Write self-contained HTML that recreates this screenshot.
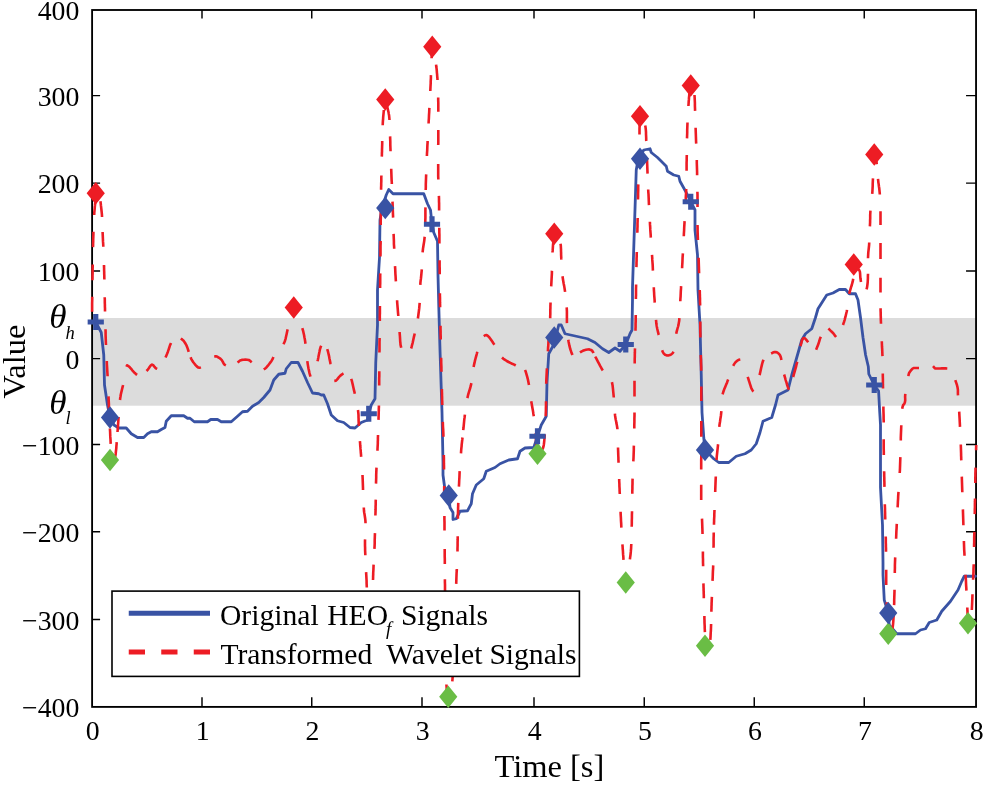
<!DOCTYPE html>
<html lang="en"><head><meta charset="utf-8"><title>Original HEOf Signals and Transformed Wavelet Signals</title>
<style>html,body{margin:0;padding:0;background:#fff;}body{width:984px;height:786px;overflow:hidden;}svg{display:block;}text{font-family:"Liberation Serif",serif;fill:#000;}</style></head><body>
<svg width="984" height="786" viewBox="0 0 984 786">
<rect width="984" height="786" fill="#fff"/>
<rect x="92.1" y="318" width="883.95" height="87.7" fill="#dcdcdc"/>
<g stroke="#000" stroke-width="1.45" fill="none">
<path d="M202,706.9 v-9.6 M202,10 v8.4"/>
<path d="M311.75,706.9 v-9.6 M311.75,10 v8.4"/>
<path d="M422,706.9 v-9.6 M422,10 v8.4"/>
<path d="M534,706.9 v-9.6 M534,10 v8.4"/>
<path d="M644.25,706.9 v-9.6 M644.25,10 v8.4"/>
<path d="M754.25,706.9 v-9.6 M754.25,10 v8.4"/>
<path d="M864.25,706.9 v-9.6 M864.25,10 v8.4"/>
<path d="M92.1,95.6 h8 M976.05,95.6 h-10"/>
<path d="M92.1,183.1 h8 M976.05,183.1 h-10"/>
<path d="M92.1,270.9 h8 M976.05,270.9 h-10"/>
<path d="M92.1,358.6 h8 M976.05,358.6 h-10"/>
<path d="M92.1,444.4 h8 M976.05,444.4 h-10"/>
<path d="M92.1,531.75 h8 M976.05,531.75 h-10"/>
<path d="M92.1,619.5 h8 M976.05,619.5 h-10"/>
</g>
<rect x="92.1" y="10" width="883.95" height="696.9" fill="none" stroke="#000" stroke-width="1.85"/>
<path d="M95.75,322 L101.25,332.5 L103.75,355 L104.5,385 L107.5,405 L110,417.5 L114,425 L118.75,428 L126.25,428 L131.25,433.75 L137.5,437.5 L143.75,437.5 L147.5,433.75 L151.25,431.75 L157.5,431.75 L161.25,429.5 L165,427.5 L166.25,421.25 L171.25,415.75 L183.75,415.75 L187.5,418.25 L190,418.25 L194.25,421.75 L207.5,421.75 L210.75,419.5 L217.5,419.5 L221.25,421.75 L231.25,421.75 L237.5,416.25 L242.5,411.75 L247.5,411.25 L252.5,406.25 L258.75,402.5 L263.75,397.5 L270,390 L273.75,380 L278.75,374.25 L285,373.25 L286.25,368.75 L291.25,362.5 L298,362.5 L302.5,371.25 L307.5,382.5 L312.5,393 L318.75,393.75 L321.25,395 L323.75,395 L327.5,403.75 L331.25,415 L337.5,420.75 L343.75,422.5 L350,427.5 L355,428 L361.25,422.5 L367.5,420 L368.75,413.75 L371.25,405 L375,398.75 L375.75,362.5 L377.5,325 L377.5,290 L379.5,257.5 L380,220 L382,208 L386.25,195 L388.75,189.5 L393,193.75 L423.75,193.75 L427.5,203.75 L430.5,210 L432,224.25 L433.75,232.5 L437.5,241.25 L438,275 L438.75,305 L440,350 L442,412.5 L443,462.5 L443,475 L445,490 L448.75,495.5 L450,507.5 L453,512.5 L453,519.5 L456.25,518.75 L460,511.25 L467.5,510.75 L471.25,503.75 L472.5,493.75 L476.25,485 L483.75,478.75 L486.25,471.25 L495,467.5 L500,463.75 L508.75,460 L517.5,458.75 L520,451.25 L525,448 L533.75,447.5 L537.5,436.25 L541.25,425 L546.25,416.25 L547,382.5 L548.75,353.75 L554.25,343.75 L558.75,325 L561.25,325 L565,333.75 L576.25,336.25 L587.5,338.75 L595,342.5 L602.5,348.75 L608.75,352.5 L615,348 L620,351.25 L625.75,344.5 L630,333.75 L632,330 L632.5,300 L632.5,287.5 L634.5,225 L636.25,170 L638,160 L643.75,150 L650,148.75 L651.25,152.5 L657.5,157.5 L666.25,166.25 L667.5,171.25 L673.75,175 L678.75,176.25 L680,181.25 L686.25,192.5 L690.75,201.75 L695,210 L695,230 L697.5,255 L698,290 L700,325 L700.5,346 L701.25,375 L702,412.5 L703.75,437.5 L705,450 L713.75,458.75 L718.75,462.5 L728.75,462.5 L736.25,456.25 L745,453.75 L751.25,450 L756.25,443.75 L760,432.5 L763,421.25 L771.75,417.5 L775.5,405 L778,395 L788,390 L791.75,375 L796.75,357.5 L801.75,340 L805.5,333.75 L811.75,328.75 L815.5,317.5 L818,308.75 L826.75,295 L833,293 L839.25,289.5 L845.5,289.5 L849.25,293.75 L855.5,293.75 L858,300 L860.5,317.5 L863,337.5 L865.6,355 L868.3,366.5 L868.8,374 L871,378.5 L874.25,385 L878.6,391 L879.75,412.5 L880.5,425 L880.5,487.5 L882.5,525 L883,562.5 L883,575 L884.25,600 L888.25,613 L889.25,625 L896.75,633.75 L915.5,633.75 L920.5,630 L925.5,628.75 L929.25,622.5 L936.75,620 L941.75,611.25 L950.5,601.25 L958,590 L961.75,581.25 L964.25,576.25 L975.5,576.25" fill="none" stroke="#3953a4" stroke-width="2.8" stroke-linejoin="round" stroke-linecap="round"/>
<path d="M92.1,311.8 L92.1,309.1 L92.1,306.2 L92.1,303.2 L92.2,300.0 L92.2,298.4 L92.2,296.7 M92.4,280.3 L92.5,278.2 L92.5,276.0 L92.6,273.7 L92.6,271.5 L92.6,269.2 L92.7,266.9 L92.7,264.6 M93.0,247.1 L93.1,245.2 L93.1,243.3 L93.2,241.6 L93.2,240.0 L93.3,237.0 L93.4,234.3 L93.4,231.7 M94.2,215.0 L94.3,212.7 L94.5,210.6 L94.7,208.6 L94.8,206.8 L95.0,205.2 L95.2,203.2 L95.4,201.4 L95.7,199.8 L95.7,199.4 M100.4,201.2 L100.7,203.1 L100.9,205.2 L101.1,206.9 L101.3,208.7 L101.5,210.5 L101.7,212.4 L101.9,214.4 L102.0,216.3 L102.0,216.9 M102.6,232.0 L102.7,234.2 L102.8,236.4 L102.9,238.8 L103.0,241.4 L103.2,244.0 L103.3,246.8 M104.0,265.0 L104.0,266.7 L104.1,268.4 L104.1,270.1 L104.2,271.9 L104.2,273.8 L104.3,275.6 L104.3,277.5 L104.4,279.5 M104.7,297.2 L104.8,299.2 L104.8,301.1 L104.8,302.9 L104.9,304.8 L104.9,306.6 L105.0,308.3 L105.0,310.0 L105.0,311.6 M105.5,329.2 L105.6,331.9 L105.6,334.7 L105.7,337.6 L105.8,340.5 L105.9,343.5 L106.0,345.0 M106.8,361.1 L106.8,362.7 L106.9,364.4 L107.0,366.0 L107.1,367.7 L107.2,369.4 L107.3,371.1 L107.4,372.8 L107.5,374.5 L107.6,376.3 M108.5,396.4 L108.6,398.4 L108.7,400.4 L108.8,402.4 L108.9,404.4 L108.9,406.4 L109.0,408.4 L109.1,410.4 M109.9,428.5 L110.1,431.4 L110.2,434.2 L110.3,436.9 L110.5,439.4 L110.6,441.7 L110.7,443.9 M115.0,457.4 L115.4,455.6 L115.7,453.7 L115.9,451.5 L116.1,449.9 L116.3,448.1 L116.4,446.2 L116.6,444.2 L116.7,442.1 M117.5,432.0 L117.7,429.6 L117.9,427.0 L118.1,424.2 L118.3,421.4 L118.5,418.4 L118.6,417.0 M120.0,400.0 L120.2,398.2 L120.5,396.5 L120.8,394.5 L121.2,392.7 L121.6,391.1 L122.1,389.0 L122.5,387.4 L122.9,385.7 L123.0,385.0 M126.5,366.8 L127.1,365.3 L128.5,366.1 L129.8,367.3 L131.2,368.9 L132.3,370.3 L133.5,371.7 L134.8,373.1 L136.0,374.1 L137.1,374.9 M146.5,371.0 L147.6,369.9 L148.6,368.5 L149.6,367.0 L150.7,365.5 L152.0,364.5 L153.5,365.4 L154.6,366.9 L155.7,368.3 L157.2,368.9 M165.5,357.5 L166.3,355.7 L167.1,353.8 L167.9,351.7 L168.6,349.6 L169.3,347.5 L169.9,345.6 L170.6,343.9 L171.0,342.9 M180.8,338.5 L182.3,339.6 L183.6,340.8 L184.6,342.2 L185.6,343.8 L186.5,345.4 L187.1,346.9 L187.7,348.6 L188.3,350.5 L188.7,351.8 M190.6,357.2 L191.2,358.8 L192.2,360.5 L193.3,362.2 L194.5,363.7 L195.6,365.1 L196.8,366.4 L198.1,367.4 L199.6,367.8 L200.8,367.2 M214.2,356.5 L215.8,356.3 L217.5,356.8 L219.1,357.8 L220.6,358.9 L221.8,360.1 L222.7,361.6 L223.5,363.2 L224.4,364.6 L225.9,365.3 M237.5,362.5 L238.8,361.6 L240.1,360.4 L241.8,359.9 L243.6,359.7 L245.4,359.6 L247.1,359.7 L248.8,360.0 L250.2,360.8 L251.4,362.1 L251.7,362.4 M263.8,369.5 L265.2,368.4 L266.6,367.2 L267.9,365.7 L269.2,364.0 L270.4,362.4 L271.5,360.9 L272.4,359.4 L273.1,357.8 L273.4,357.0 M283.5,344.2 L284.4,342.3 L285.0,340.7 L285.5,339.1 L285.9,337.3 L286.3,335.5 L286.7,333.7 L287.1,331.8 L287.5,330.0 L287.7,329.4 M302.3,328.1 L302.8,329.9 L303.3,331.7 L303.7,333.5 L304.1,335.3 L304.4,337.2 L304.8,339.1 L305.1,341.0 L305.4,343.1 L305.5,343.8 M307.3,361.1 L307.6,363.1 L307.9,365.1 L308.2,366.9 L308.5,368.6 L308.9,370.3 L309.3,372.2 L309.7,373.9 L310.2,375.6 L310.5,376.6 M317.5,361.2 L317.9,359.6 L318.3,357.8 L318.6,355.9 L319.0,354.0 L319.4,352.1 L319.7,350.4 L320.1,348.8 L320.6,347.1 L321.2,345.8 M327.2,349.1 L327.8,350.9 L328.3,353.0 L328.7,354.6 L329.1,356.4 L329.4,358.3 L329.8,360.1 L330.2,362.0 L330.5,363.8 L330.6,364.3 M334.3,380.9 L336.0,380.7 L337.2,379.4 L338.2,378.1 L339.2,376.8 L340.4,375.6 L341.7,374.6 L343.0,373.7 L343.5,373.4 M351.2,378.8 L351.8,380.6 L352.3,382.7 L352.7,384.4 L353.1,386.2 L353.5,388.0 L353.9,389.9 L354.4,391.8 L354.8,393.8 M358.0,410.0 L358.2,411.9 L358.4,413.6 L358.5,415.2 L358.5,417.3 L358.6,418.9 L358.6,420.6 L358.7,422.4 L358.8,424.4 L358.9,425.9 M359.9,441.1 L360.1,443.2 L360.2,445.2 L360.4,447.1 L360.5,448.9 L360.7,450.7 L360.8,452.5 L361.0,454.3 L361.1,456.2 L361.2,456.8 M362.5,475.0 L362.6,477.2 L362.7,479.8 L362.8,482.5 L362.9,485.4 L363.0,488.4 L363.0,489.9 M363.8,507.5 L363.9,509.3 L364.0,511.0 L364.3,513.0 L364.6,514.7 L364.9,516.8 L365.2,518.8 L365.4,520.5 L365.5,522.5 L365.5,523.2 M365.1,539.3 L365.0,540.9 L365.0,543.3 L365.0,545.6 L365.1,547.9 L365.1,550.1 L365.2,552.3 L365.3,554.4 L365.3,555.2 M366.1,572.1 L366.2,573.8 L366.3,575.5 L366.4,577.4 L366.5,579.2 L366.6,581.0 L366.6,583.1 L366.7,585.1 L366.8,587.5 M373.0,580.0 L373.1,578.1 L373.1,576.3 L373.2,574.6 L373.2,573.0 L373.4,570.0 L373.5,567.2 L373.6,564.6 M374.4,548.9 L374.6,546.1 L374.7,543.3 L374.7,540.4 L374.8,537.5 L374.9,534.7 L375.0,533.2 M375.4,515.5 L375.5,512.5 L375.6,509.4 L375.6,506.3 L375.7,504.6 L375.7,503.0 L375.7,501.4 L375.8,499.7 M376.0,483.6 L376.1,480.6 L376.2,477.7 L376.2,475.0 L376.3,472.4 L376.4,470.0 L376.5,467.6 M377.5,450.8 L377.5,449.2 L377.6,447.2 L377.7,445.5 L377.8,443.6 L377.8,441.7 L377.9,439.9 L377.9,437.8 L378.0,436.0 L378.0,435.0 M378.5,419.9 L378.6,416.9 L378.7,413.8 L378.7,412.2 L378.8,410.6 L378.8,408.9 L378.9,407.2 L378.9,405.4 M379.2,385.4 L379.2,383.1 L379.2,380.8 L379.2,378.4 L379.3,376.1 L379.3,373.7 L379.3,371.3 M379.4,352.5 L379.5,350.3 L379.5,348.1 L379.5,346.0 L379.5,343.9 L379.5,341.9 L379.6,339.9 L379.6,337.9 M379.8,320.9 L379.8,319.0 L379.8,317.2 L379.8,315.3 L379.9,313.5 L379.9,311.6 L379.9,309.7 L379.9,307.8 L379.9,305.9 M380.1,287.9 L380.1,285.8 L380.2,283.8 L380.2,281.7 L380.2,279.7 L380.2,277.6 L380.2,275.5 L380.3,273.4 M380.4,256.5 L380.5,254.3 L380.5,252.2 L380.5,250.0 L380.5,247.8 L380.5,245.6 L380.6,243.4 L380.6,241.1 M380.7,225.1 L380.7,222.8 L380.7,220.4 L380.8,218.1 L380.8,215.8 L380.8,213.6 L380.8,211.3 M381.1,189.8 L381.1,187.7 L381.2,185.6 L381.2,183.6 L381.3,181.5 L381.3,179.5 L381.3,177.5 L381.4,175.5 M381.8,156.6 L381.9,154.9 L381.9,153.2 L382.0,151.6 L382.0,150.0 L382.1,146.9 L382.2,143.9 L382.2,141.1 M382.7,125.3 L382.8,123.1 L382.9,121.0 L383.1,119.0 L383.2,116.9 L383.4,114.9 L383.6,112.9 L383.8,110.9 L383.8,110.0 M386.9,104.8 L387.2,106.7 L387.6,108.4 L388.0,110.2 L388.5,112.1 L388.8,114.0 L389.1,115.6 L389.3,117.6 L389.5,120.0 M390.1,136.4 L390.2,139.1 L390.3,141.9 L390.3,144.6 L390.4,147.4 L390.5,150.0 L390.5,151.3 M391.2,168.8 L391.3,171.6 L391.4,174.3 L391.5,177.1 L391.6,179.8 L391.8,182.5 L391.8,183.9 M392.5,201.6 L392.6,204.4 L392.7,207.1 L392.8,209.7 L392.9,212.4 L393.0,215.0 L393.1,217.6 M393.6,233.9 L393.7,236.3 L393.8,238.8 L393.9,241.3 L393.9,243.8 L394.1,246.3 L394.2,248.8 M395.0,266.2 L395.2,268.8 L395.3,271.2 L395.4,273.8 L395.6,276.3 L395.7,278.8 L395.9,281.3 M397.1,300.2 L397.2,302.6 L397.4,305.0 L397.6,307.4 L397.8,309.8 L398.0,312.3 L398.2,314.7 L398.3,316.0 M399.6,332.0 L399.7,333.6 L399.9,335.8 L400.0,337.6 L400.1,339.3 L400.2,341.3 L400.4,343.0 L400.5,344.6 L400.9,346.4 L401.2,347.8 M411.1,348.5 L411.6,346.9 L412.1,344.8 L412.6,343.1 L413.0,341.2 L413.4,339.3 L413.8,337.4 L414.3,335.4 L414.7,333.5 M417.9,318.5 L418.2,316.3 L418.5,314.0 L418.8,311.6 L419.0,310.0 L419.2,308.4 L419.4,306.0 L419.6,303.7 L419.7,302.9 M420.3,284.9 L420.4,282.9 L420.6,280.9 L420.9,278.9 L421.1,276.8 L421.3,274.8 L421.5,272.7 L421.7,270.6 L421.8,269.3 M422.6,252.4 L422.8,250.5 L423.0,248.6 L423.3,246.7 L423.6,244.8 L423.9,243.0 L424.2,241.1 L424.4,239.3 L424.6,237.4 L424.7,236.8 M425.3,222.5 L425.3,220.4 L425.4,218.1 L425.4,215.6 L425.4,213.0 L425.4,210.3 L425.5,207.4 M425.7,190.0 L425.8,187.2 L425.8,184.4 L425.9,181.6 L426.0,178.7 L426.1,175.9 L426.2,174.4 M426.9,156.0 L427.0,153.2 L427.2,150.5 L427.3,147.8 L427.4,145.1 L427.6,142.4 L427.6,141.0 M428.6,123.5 L428.7,120.8 L428.9,118.0 L429.0,115.1 L429.2,112.2 L429.3,109.4 L429.4,107.9 M430.3,91.0 L430.4,88.9 L430.5,86.8 L430.6,85.0 L430.7,83.2 L430.7,81.5 L430.8,79.8 L430.9,78.2 L430.9,75.9 L431.0,75.1 M431.6,58.3 L431.7,56.2 L431.8,54.2 L431.9,52.3 L432.0,50.7 L432.2,48.8 L432.7,47.5 L433.3,49.0 L433.7,50.8 L433.9,51.8 M436.1,64.7 L436.3,66.8 L436.6,68.8 L436.8,70.9 L436.9,72.6 L437.1,74.3 L437.2,76.1 L437.4,78.0 L437.5,80.0 M438.2,97.4 L438.2,100.0 L438.3,102.9 L438.3,106.2 L438.3,108.0 L438.3,109.8 L438.3,111.7 M438.3,130.0 L438.3,132.0 L438.3,134.0 L438.3,136.0 L438.3,137.9 L438.3,139.8 L438.3,141.6 L438.3,143.3 L438.2,145.0 M438.2,164.0 L438.2,166.6 L438.2,169.1 L438.2,171.6 L438.2,174.0 L438.2,176.3 L438.3,178.6 L438.3,179.6 M438.9,195.9 L439.0,198.5 L439.0,201.6 L439.1,203.2 L439.1,204.9 L439.1,206.7 L439.1,208.6 L439.1,210.6 M439.3,227.8 L439.3,230.0 L439.3,232.3 L439.4,234.6 L439.4,236.9 L439.4,239.1 L439.4,241.3 L439.4,243.6 M439.6,260.2 L439.6,262.2 L439.6,264.2 L439.6,266.2 L439.7,268.2 L439.7,270.2 L439.7,272.2 L439.7,274.2 M439.9,293.2 L439.9,295.4 L440.0,297.7 L440.0,300.0 L440.0,302.4 L440.1,304.8 L440.1,307.3 M440.5,325.8 L440.5,328.5 L440.6,331.2 L440.6,334.0 L440.7,336.7 L440.7,339.4 M441.1,357.7 L441.2,360.1 L441.2,362.5 L441.3,364.8 L441.4,367.1 L441.4,369.4 L441.5,371.7 M441.9,389.1 L441.9,391.1 L442.0,393.2 L442.0,395.2 L442.1,397.2 L442.1,399.2 L442.2,401.2 L442.2,403.1 L442.3,405.0 M442.8,421.9 L442.9,424.5 L443.0,427.1 L443.2,429.7 L443.3,432.3 L443.4,435.2 L443.4,436.7 M443.8,455.0 L443.9,457.7 L443.9,460.5 L443.9,463.4 L444.0,466.4 L444.0,469.5 M444.2,485.9 L444.2,489.3 L444.2,492.7 L444.3,496.1 L444.3,499.5 M444.4,516.0 L444.4,519.1 L444.5,522.1 L444.5,525.0 L444.5,527.8 L444.5,530.6 M444.7,548.9 L444.7,551.4 L444.7,553.9 L444.7,556.4 L444.8,558.9 L444.8,561.4 L444.8,563.9 M444.9,579.3 L444.9,582.0 L445.0,584.7 L445.0,587.5 L445.0,590.4 L445.1,593.3 M446.4,684.5 L446.6,686.8 L446.7,689.0 L447.0,691.0 L447.2,692.8 L447.6,694.7 L448.0,696.4 L449.0,696.1 L449.4,694.3 M452.3,681.4 L452.5,679.0 L452.7,675.8 L452.8,674.0 L452.9,671.9 L453.0,669.7 L453.1,667.4 M453.9,648.6 L454.0,645.7 L454.1,642.8 L454.2,640.0 L454.3,637.2 L454.4,634.5 M455.1,616.1 L455.2,614.2 L455.3,612.4 L455.3,610.7 L455.4,609.0 L455.5,607.3 L455.5,605.7 L455.6,602.6 L455.7,601.1 M456.2,583.9 L456.3,581.1 L456.4,578.2 L456.5,575.5 L456.6,572.8 L456.8,570.2 L456.8,568.9 M457.5,551.4 L457.5,548.5 L457.6,545.6 L457.6,542.5 L457.7,539.4 L457.7,536.3 M457.9,518.8 L457.9,515.6 L458.0,512.5 L458.1,509.3 L458.1,507.7 L458.2,506.1 L458.2,504.5 L458.3,502.8 M458.9,486.6 L459.1,483.5 L459.2,480.5 L459.4,477.7 L459.5,475.0 L459.6,472.4 L459.7,471.2 M461.0,453.3 L461.1,451.6 L461.2,450.0 L461.4,447.9 L461.6,446.3 L461.7,444.5 L461.9,442.9 L462.1,441.1 L462.3,439.5 L462.5,437.5 M463.2,430.1 L463.5,428.0 L463.7,425.9 L463.9,423.7 L464.1,421.5 L464.3,419.4 L464.6,417.4 L464.8,415.5 L464.9,414.6 M467.4,398.1 L467.8,396.3 L468.2,394.5 L468.7,392.9 L469.2,391.2 L469.7,389.6 L470.2,388.0 L470.7,386.2 L471.1,384.4 L471.4,383.1 M473.6,366.9 L474.0,364.9 L474.5,362.9 L474.9,360.9 L475.4,359.0 L475.9,357.1 L476.4,355.3 L476.9,353.5 L477.3,351.8 M483.8,336.2 L485.1,335.3 L486.7,335.1 L488.1,336.1 L489.3,337.4 L490.3,338.7 L491.4,340.3 L492.6,342.0 L493.4,343.3 L494.4,344.7 M502.0,357.5 L503.4,358.8 L505.1,359.9 L506.8,361.0 L508.6,362.0 L510.4,362.9 L512.1,363.7 L513.7,364.4 L515.4,365.2 L515.8,365.4 M525.0,370.0 L525.7,371.6 L526.3,373.6 L526.8,375.4 L527.3,377.2 L527.8,379.1 L528.2,381.1 L528.6,383.1 L529.0,385.1 M531.2,401.2 L531.6,403.2 L531.9,405.0 L532.2,406.7 L532.5,408.4 L532.8,410.1 L533.1,411.9 L533.4,414.0 L533.8,416.2 M535.4,433.4 L535.6,435.5 L535.8,437.4 L535.9,439.2 L536.1,440.8 L536.2,442.4 L536.4,444.8 L536.6,447.1 L536.7,449.2 M542.2,449.7 L543.1,448.0 L543.5,446.4 L543.9,444.2 L544.1,442.4 L544.3,440.3 L544.5,438.0 L544.7,435.5 L544.8,434.3 M545.7,416.3 L545.8,413.7 L545.9,411.0 L545.9,408.3 L546.0,405.5 L546.0,402.7 L546.0,401.3 M546.2,383.7 L546.3,381.3 L546.4,379.0 L546.5,376.8 L546.6,374.6 L546.7,372.5 L546.8,370.4 L546.9,368.4 M547.9,351.4 L548.0,349.4 L548.1,347.3 L548.3,345.3 L548.4,343.4 L548.5,341.5 L548.7,339.7 L548.8,338.0 L548.9,335.7 M550.2,318.2 L550.2,316.3 L550.3,314.2 L550.3,312.2 L550.3,310.1 L550.4,308.1 L550.4,306.1 L550.5,304.2 L550.5,302.5 M551.2,286.4 L551.3,284.3 L551.4,282.4 L551.5,280.5 L551.6,278.7 L551.7,276.9 L551.8,275.1 L551.9,273.2 L551.9,271.3 L552.0,270.7 M552.5,252.5 L552.7,250.2 L552.8,248.5 L552.9,246.8 L553.0,245.0 L553.2,243.3 L553.3,241.6 L553.5,239.3 L553.8,237.3 L553.9,236.7 M560.5,243.8 L560.8,245.5 L560.9,247.6 L561.0,249.2 L561.0,251.0 L561.1,252.9 L561.1,254.8 L561.2,256.8 L561.3,258.9 L561.4,259.6 M562.5,276.2 L562.8,278.3 L563.1,280.2 L563.4,282.0 L563.7,283.8 L564.1,285.6 L564.4,287.4 L564.7,289.3 L565.0,291.2 L565.1,291.9 M566.7,307.4 L566.8,309.4 L566.9,311.4 L566.9,313.2 L566.9,315.0 L566.9,316.8 L566.9,318.6 L566.9,320.4 L566.9,322.4 L567.0,323.1 M568.3,339.7 L568.6,341.8 L569.0,343.8 L569.4,345.7 L569.9,347.6 L570.3,349.3 L570.9,350.9 L571.5,352.8 L572.2,354.4 L572.5,355.0 M580.0,352.5 L581.3,351.6 L582.8,350.8 L584.3,350.2 L586.0,349.8 L587.6,349.5 L589.3,349.4 L591.0,349.9 L592.3,350.9 L593.2,352.5 L593.4,353.1 M595.2,356.7 L596.1,358.2 L597.0,359.9 L598.0,361.8 L599.0,363.7 L600.0,365.6 L601.0,367.4 L601.9,369.1 L602.8,370.4 M611.9,382.1 L612.3,383.9 L612.6,385.5 L612.8,387.3 L613.0,389.2 L613.2,391.3 L613.4,393.4 L613.6,395.4 L613.8,397.5 M614.9,413.6 L615.1,415.7 L615.4,417.6 L615.7,419.5 L616.1,421.3 L616.4,423.1 L616.8,424.9 L617.1,426.8 L617.4,428.7 L617.4,429.3 M618.0,447.5 L618.1,450.1 L618.2,452.9 L618.3,456.0 L618.4,457.6 L618.4,459.3 L618.5,461.0 L618.5,462.7 M619.2,478.9 L619.2,480.7 L619.3,482.5 L619.4,484.2 L619.4,485.9 L619.5,487.5 L619.6,489.1 L619.6,490.7 L619.7,492.4 L619.8,494.0 M620.6,511.8 L620.7,514.9 L620.9,517.9 L621.0,520.8 L621.2,523.6 L621.3,526.3 L621.4,527.7 M622.4,544.3 L622.6,546.4 L622.7,548.5 L622.9,550.5 L623.0,552.5 L623.1,554.4 L623.3,556.3 L623.4,558.1 L623.5,559.9 M625.0,577.3 L625.2,579.2 L625.3,580.9 L625.6,582.7 L626.2,583.9 L626.8,582.1 L627.1,580.3 L627.5,578.3 L627.7,576.6 L627.9,575.5 M629.9,559.4 L630.1,557.6 L630.4,555.6 L630.6,553.8 L630.8,551.9 L630.9,550.3 L631.1,548.3 L631.2,545.9 L631.3,544.0 M631.7,526.8 L631.8,523.8 L631.8,520.9 L631.9,518.0 L631.9,515.2 L632.0,512.5 L632.0,511.2 M632.3,493.8 L632.3,491.4 L632.4,488.9 L632.4,486.4 L632.5,483.8 L632.5,481.2 L632.6,478.6 M633.3,461.3 L633.5,458.5 L633.6,455.7 L633.7,452.9 L633.8,450.0 L633.8,447.1 L633.9,445.6 M634.3,428.4 L634.3,425.2 L634.4,422.0 L634.4,418.8 L634.5,415.6 L634.5,412.5 M634.5,396.4 L634.5,394.7 L634.5,393.1 L634.5,391.5 L634.5,388.3 L634.5,385.2 L634.5,382.2 L634.5,380.7 M634.7,363.5 L634.7,361.2 L634.7,358.9 L634.8,356.6 L634.8,354.5 L634.9,352.4 L634.9,350.4 L635.0,348.4 M635.5,330.7 L635.5,328.7 L635.6,327.1 L635.6,325.3 L635.6,323.4 L635.7,321.8 L635.7,319.7 L635.7,318.1 L635.7,316.1 L635.8,315.0 M635.9,298.9 L635.9,297.2 L636.0,295.4 L636.0,293.6 L636.0,291.8 L636.0,290.0 L636.0,288.2 L636.1,286.3 L636.1,284.4 M636.4,267.1 L636.5,265.0 L636.5,262.9 L636.6,260.8 L636.6,258.6 L636.7,256.4 L636.7,254.2 L636.8,252.0 M637.3,232.7 L637.4,230.7 L637.4,228.8 L637.5,226.9 L637.5,225.0 L637.5,223.2 L637.6,221.4 L637.6,219.7 L637.7,218.0 M638.0,199.5 L638.1,196.6 L638.1,193.6 L638.2,190.6 L638.2,187.5 L638.3,184.4 M638.8,166.8 L638.9,163.7 L639.0,160.5 L639.1,157.5 L639.1,154.4 L639.2,151.5 M639.5,134.6 L639.5,131.5 L639.5,128.6 L639.6,125.9 L639.7,123.5 L639.7,121.3 L639.9,119.5 L639.9,118.7 M645.2,125.4 L645.5,127.0 L645.7,128.6 L645.9,130.6 L646.0,132.4 L646.0,134.0 L646.1,135.9 L646.2,138.2 L646.2,140.0 L646.3,141.0 M647.0,158.3 L647.1,161.3 L647.2,164.3 L647.3,167.1 L647.4,169.9 L647.5,172.5 L647.6,173.7 M648.2,189.5 L648.3,191.8 L648.5,194.0 L648.6,196.4 L648.7,198.8 L648.8,201.3 L648.9,203.8 L649.0,205.2 M649.9,221.7 L650.0,224.4 L650.2,227.2 L650.3,229.9 L650.5,232.5 L650.7,235.1 L650.8,237.6 M652.0,254.9 L652.2,257.4 L652.3,259.9 L652.5,262.5 L652.7,265.1 L652.8,267.8 L652.9,270.6 M653.8,287.2 L653.9,289.8 L654.1,292.5 L654.2,295.0 L654.4,297.5 L654.6,300.0 L654.7,302.6 M656.0,319.8 L656.2,321.6 L656.3,323.3 L656.6,325.4 L656.9,327.1 L657.3,329.0 L657.7,330.7 L658.1,332.4 L658.6,334.4 L658.8,335.0 M662.1,350.3 L662.9,352.1 L663.8,353.6 L665.1,354.8 L666.6,355.4 L668.2,355.5 L669.9,355.1 L671.3,354.4 L672.7,353.1 L673.6,351.7 M676.2,333.8 L676.6,331.9 L677.0,330.4 L677.5,328.5 L678.1,326.5 L678.5,324.9 L678.8,323.0 L679.2,320.8 L679.3,319.1 L679.4,318.2 M680.3,301.3 L680.4,298.8 L680.6,296.3 L680.7,293.8 L680.8,291.2 L681.0,288.7 L681.1,286.1 M682.1,268.2 L682.2,265.5 L682.4,262.7 L682.5,260.0 L682.6,257.3 L682.8,254.7 L682.9,253.4 M683.8,236.2 L683.9,233.4 L684.1,230.5 L684.2,227.5 L684.4,224.4 L684.5,222.8 L684.6,221.2 M685.5,204.0 L685.6,202.3 L685.7,200.6 L685.8,198.8 L685.8,197.1 L685.9,195.5 L686.0,193.8 L686.1,192.2 L686.2,189.0 M686.6,170.8 L686.6,168.2 L686.6,165.6 L686.6,162.9 L686.7,160.3 L686.7,157.7 L686.8,155.0 M687.0,138.4 L687.1,135.7 L687.2,133.0 L687.2,130.3 L687.3,127.6 L687.4,125.0 L687.5,122.5 M688.4,106.0 L688.6,103.7 L688.7,101.4 L688.9,99.4 L689.0,97.5 L689.2,95.8 L689.4,93.6 L689.6,91.9 L689.8,90.1 M694.5,95.0 L694.6,96.6 L694.7,98.6 L694.8,100.7 L694.9,103.0 L694.9,105.5 L695.0,108.2 L695.1,110.9 M695.6,127.7 L695.7,130.5 L695.8,133.4 L695.9,136.3 L696.0,139.2 L696.1,142.1 L696.2,143.6 M696.8,160.0 L696.8,163.0 L696.9,166.0 L697.0,169.1 L697.1,172.2 L697.1,175.3 M697.4,191.8 L697.5,194.6 L697.5,197.3 L697.5,199.9 L697.5,202.4 L697.5,204.7 L697.5,207.0 M697.5,225.0 L697.6,227.8 L697.6,230.8 L697.7,233.8 L697.8,236.9 L697.9,240.0 M698.6,257.8 L698.7,260.9 L698.8,264.1 L698.9,267.1 L699.0,270.2 L699.1,273.2 M699.7,290.0 L699.8,291.6 L699.8,293.3 L699.9,294.9 L699.9,296.6 L700.0,298.3 L700.0,300.0 L700.0,301.8 L700.1,303.6 L700.1,305.5 M700.3,321.5 L700.3,323.5 L700.3,325.6 L700.3,327.6 L700.3,329.6 L700.3,331.6 L700.4,333.6 L700.4,335.5 L700.4,337.4 M700.8,354.9 L700.8,356.5 L700.9,358.1 L701.0,359.8 L701.0,361.8 L701.1,364.2 L701.2,367.1 L701.2,368.8 L701.2,370.7 M701.3,386.4 L701.3,389.8 L701.3,393.4 L701.3,397.0 L701.3,400.9 M701.3,420.9 L701.3,424.9 L701.3,429.0 L701.3,432.9 L701.3,436.8 M701.3,454.3 L701.3,457.3 L701.2,460.0 L701.2,462.5 L701.2,464.9 L701.2,467.2 L701.2,469.4 M701.2,484.7 L701.2,487.5 L701.2,490.2 L701.2,492.9 L701.2,495.7 L701.2,498.5 L701.2,500.0 M702.0,518.6 L702.1,521.2 L702.2,523.8 L702.3,526.6 L702.4,529.5 L702.5,532.5 L702.5,534.1 M702.9,551.6 L702.9,553.4 L702.9,555.3 L702.9,557.1 L703.0,559.0 L703.0,560.8 L703.0,562.7 L703.1,564.5 L703.1,566.3 M703.4,583.4 L703.5,585.1 L703.5,586.8 L703.6,588.4 L703.6,590.1 L703.7,591.7 L703.7,593.4 L703.8,595.0 L703.8,596.6 L703.8,598.2 M704.4,616.1 L704.4,618.4 L704.5,620.5 L704.5,622.5 L704.6,624.5 L704.7,626.3 L704.7,628.1 L704.8,629.7 L704.9,632.1 M710.3,639.9 L710.5,637.5 L710.6,635.4 L710.7,633.0 L710.9,630.2 L711.0,627.2 L711.1,624.0 M711.4,611.8 L711.4,610.1 L711.5,608.3 L711.5,606.6 L711.6,604.9 L711.6,603.2 L711.7,601.6 L711.8,598.4 L711.9,596.9 M712.5,580.8 L712.7,577.6 L712.8,574.4 L712.9,571.3 L713.1,568.3 L713.2,565.4 M713.5,547.8 L713.6,545.3 L713.6,542.9 L713.6,540.5 L713.6,538.1 L713.7,535.8 L713.7,533.6 L713.8,532.5 M714.0,524.8 L714.0,523.1 L714.1,521.4 L714.1,519.7 L714.2,518.0 L714.3,516.2 L714.3,514.2 L714.4,512.2 L714.5,510.0 M715.2,492.0 L715.3,489.0 L715.4,486.2 L715.5,483.5 L715.6,480.9 L715.7,478.6 L715.8,476.5 M716.5,460.0 L716.7,458.0 L716.8,456.1 L717.0,454.3 L717.2,452.5 L717.4,450.7 L717.6,448.9 L717.8,447.0 L718.0,445.0 L718.1,444.3 M719.3,426.8 L719.5,424.9 L719.8,423.0 L720.1,421.2 L720.3,419.4 L720.6,417.6 L720.9,415.7 L721.1,413.8 L721.3,411.8 L721.4,411.1 M722.6,394.4 L723.1,392.5 L723.7,390.8 L724.3,389.1 L725.0,387.4 L725.7,385.8 L726.4,384.1 L727.1,382.4 L727.7,380.6 L728.2,379.4 M733.2,365.8 L734.0,364.4 L735.0,362.9 L736.1,361.7 L737.3,360.6 L738.7,359.8 L740.3,359.5 M747.7,376.8 L748.2,378.4 L748.8,380.3 L749.4,382.2 L750.0,384.1 L750.6,385.9 L751.1,387.5 L751.8,389.2 L752.7,390.7 L753.5,391.4 M759.6,375.1 L760.0,373.3 L760.4,371.4 L760.8,369.6 L761.2,367.8 L761.6,366.1 L762.0,364.4 L762.5,362.5 L763.1,360.8 L763.5,359.7 M771.1,353.5 L772.5,352.8 L774.0,352.1 L775.7,352.1 L777.3,352.6 L778.6,353.5 L779.8,354.9 L780.6,356.6 L781.1,358.4 L781.4,360.0 M784.1,374.5 L784.6,376.1 L785.1,377.8 L785.5,379.5 L786.0,381.2 L786.5,382.7 L787.1,384.8 L787.7,386.6 L788.3,388.2 L788.9,389.7 M793.1,377.0 L793.6,375.4 L794.0,373.8 L794.5,372.1 L795.0,370.4 L795.5,368.7 L796.0,366.9 L796.4,365.0 L796.9,363.1 L797.2,361.7 M800.5,346.2 L800.9,344.7 L801.4,342.8 L801.8,341.1 L802.4,339.5 L803.3,338.1 L804.8,338.2 L806.1,339.6 L807.1,340.9 L808.2,342.3 M816.1,349.8 L816.8,348.1 L817.5,346.3 L818.1,344.7 L818.7,343.0 L819.3,341.2 L819.7,339.6 L820.3,337.9 L820.8,336.7 M828.4,328.5 L829.8,329.9 L831.2,331.3 L832.5,332.5 L833.6,333.7 L834.6,335.1 L835.6,336.4 L836.1,337.0 M843.0,325.0 L843.5,323.4 L844.1,321.7 L844.6,320.1 L845.0,318.4 L845.5,316.7 L845.9,315.0 L846.3,313.2 L846.8,311.2 L847.0,309.9 M849.2,293.8 L849.7,291.9 L850.2,290.1 L850.7,288.3 L851.2,286.7 L851.8,285.0 L852.2,283.4 L852.7,281.7 L853.0,280.0 L853.2,278.8 M856.7,267.7 L858.0,268.8 L859.2,270.1 L859.9,271.7 L860.1,273.5 L860.2,275.3 L860.3,277.1 L860.5,278.8 L860.8,280.8 L861.0,282.0 M866.5,289.4 L867.0,287.6 L867.3,285.6 L867.5,284.0 L867.7,282.2 L867.8,280.2 L867.9,278.3 L867.9,276.3 L868.0,274.3 L868.0,273.7 M868.0,258.2 L868.1,256.2 L868.2,254.3 L868.3,252.4 L868.5,250.6 L868.7,248.8 L868.9,247.0 L869.1,245.1 L869.2,243.2 L869.2,242.5 M869.9,226.4 L870.0,224.3 L870.1,222.4 L870.1,220.5 L870.2,218.6 L870.2,216.8 L870.2,215.0 L870.3,213.2 L870.4,211.3 L870.5,210.6 M872.2,193.8 L872.4,191.8 L872.5,189.8 L872.6,187.9 L872.7,186.0 L872.7,184.0 L872.8,181.9 L872.9,179.8 L873.0,178.3 M873.7,161.3 L873.9,159.6 L874.0,157.4 L874.3,155.7 L875.3,156.3 L875.8,158.2 L876.2,160.1 L876.5,162.0 L876.7,163.6 L876.8,164.2 M878.0,178.8 L878.2,180.7 L878.4,182.6 L878.7,184.4 L878.9,186.2 L879.2,188.0 L879.4,189.9 L879.6,191.8 L879.8,193.8 L879.8,194.4 M880.5,211.2 L880.5,213.5 L880.5,215.9 L880.5,218.7 L880.5,221.7 L880.5,224.9 M880.5,243.1 L880.5,247.0 L880.5,250.9 L880.5,254.9 L880.5,258.9 M880.5,277.7 L880.5,281.0 L880.5,284.2 L880.5,287.2 L880.5,290.0 L880.5,292.5 M880.6,308.3 L880.6,310.7 L880.7,312.9 L880.7,315.0 L880.8,317.0 L880.8,319.1 L880.9,321.3 L881.0,323.7 M881.8,341.2 L881.9,344.0 L882.0,346.7 L882.2,349.4 L882.3,352.1 L882.4,354.8 L882.5,356.1 M882.8,373.6 L882.8,376.3 L882.9,379.0 L882.9,381.7 L882.9,384.4 L883.0,387.2 L883.0,388.6 M883.4,406.4 L883.4,409.5 L883.5,412.5 L883.6,415.4 L883.6,418.3 L883.7,421.1 L883.7,422.4 M883.7,439.2 L883.7,441.2 L883.7,443.3 L883.7,445.7 L883.7,448.5 L883.8,451.6 L883.8,453.3 L883.8,455.1 M884.1,471.2 L884.2,473.4 L884.2,475.7 L884.3,477.9 L884.3,480.2 L884.4,482.4 L884.4,484.7 L884.5,486.9 M884.8,504.2 L884.9,506.4 L885.0,508.5 L885.0,510.7 L885.1,512.9 L885.1,515.0 L885.2,517.2 L885.2,519.4 M885.7,536.5 L885.8,538.6 L885.8,540.6 L885.8,542.5 L885.9,544.5 L885.9,546.4 L886.0,548.2 L886.0,550.0 L886.0,551.8 M886.2,569.7 L886.2,572.6 L886.2,575.4 L886.2,578.0 L886.2,580.5 L886.2,582.8 L886.2,585.0 M886.8,602.3 L886.9,605.0 L887.0,608.0 L887.1,609.6 L887.1,611.3 L887.2,612.9 L887.2,614.6 L887.3,616.4 L887.4,618.1 M892.3,629.4 L892.6,627.7 L892.9,625.6 L893.1,623.6 L893.3,621.2 L893.4,619.4 L893.5,617.5 L893.7,615.5 L893.7,614.4 M894.1,605.1 L894.2,602.6 L894.2,600.0 L894.3,597.3 L894.4,594.4 L894.5,591.3 L894.5,589.7 M894.8,573.1 L894.8,571.5 L894.9,568.3 L894.9,565.3 L895.0,562.5 L895.1,559.9 L895.2,557.4 M896.1,538.7 L896.2,536.3 L896.3,533.7 L896.4,531.0 L896.6,528.2 L896.7,525.3 L896.8,523.8 M897.6,507.3 L897.8,504.3 L897.9,501.4 L898.1,498.6 L898.2,495.8 L898.4,493.1 L898.5,491.8 M899.7,473.0 L899.9,470.3 L900.0,467.5 L900.1,464.6 L900.2,461.7 L900.3,458.7 L900.4,457.1 M900.8,440.5 L900.8,437.7 L900.9,435.0 L901.0,432.5 L901.1,430.1 L901.2,427.7 L901.3,425.3 M902.2,408.7 L902.6,406.7 L903.2,405.0 L904.3,403.9 L904.9,402.3 L905.2,400.6 L905.2,398.8 L905.1,397.0 L905.2,395.1 L905.3,393.9 M908.4,376.2 L908.6,374.6 L909.1,373.0 L910.1,371.5 L911.2,370.1 L912.3,368.8 L913.6,368.0 L915.3,368.0 L917.1,368.0 L918.7,368.0 L919.0,368.0 M933.0,366.2 L934.1,367.4 L935.0,368.5 L936.7,368.5 L938.5,368.5 L940.1,368.5 L941.9,368.4 L943.7,368.4 L945.4,368.4 L947.3,368.5 M955.3,380.1 L955.9,381.9 L956.5,383.6 L957.0,385.2 L957.4,386.8 L957.7,388.4 L957.9,390.0 L957.9,391.9 L957.9,393.6 L958.0,395.4 M959.2,411.6 L959.3,413.4 L959.4,415.2 L959.5,417.0 L959.6,418.8 L959.7,420.7 L959.8,422.7 L959.9,424.8 L960.0,426.9 M960.8,444.5 L960.9,447.5 L961.0,450.6 L961.1,453.8 L961.1,455.5 L961.2,457.1 L961.2,458.7 L961.3,460.4 M961.8,476.6 L961.9,479.7 L962.0,482.8 L962.1,485.9 L962.2,489.1 L962.3,492.2 M962.9,509.4 L963.0,512.5 L963.1,515.6 L963.2,518.8 L963.3,522.0 L963.4,525.2 M963.9,541.0 L964.0,544.0 L964.1,547.1 L964.2,550.0 L964.4,552.9 L964.5,555.7 M965.6,574.7 L965.7,577.3 L965.9,579.9 L966.0,582.5 L966.1,585.1 L966.3,587.9 L966.4,590.6 M967.3,607.5 L967.4,609.7 L967.5,611.6 L967.5,613.3 L967.6,615.7 L967.7,617.7 L967.7,619.4 L967.7,621.2 L967.8,622.9 L967.9,623.4 M971.8,610.0 L971.9,608.3 L972.0,606.3 L972.1,604.2 L972.2,601.9 L972.3,599.4 L972.4,596.9 L972.5,594.3 M973.1,579.7 L973.2,577.9 L973.3,576.3 L973.4,573.9 L973.5,571.6 L973.5,569.3 L973.6,566.9 L973.7,565.2 L973.7,564.3 M974.1,546.9 L974.1,544.7 L974.2,542.4 L974.2,540.0 L974.2,537.5 L974.3,534.8 L974.4,531.9 M974.7,514.1 L974.8,512.4 L974.8,510.8 L974.8,509.1 L974.9,507.5 L974.9,504.4 L975.0,501.4 L975.0,498.6 M975.3,483.0 L975.3,480.6 L975.3,478.2 L975.4,475.8 L975.4,473.5 L975.5,471.1 L975.5,468.8 L975.6,467.7 M976.1,450.3 L976.1,448.5 L976.2,446.2 L976.2,445.0" fill="none" stroke="#ed1c24" stroke-width="2.6" stroke-linejoin="round"/>
<path d="M110,448.7 l9.1,11.3 l-9.1,11.3 l-9.1,-11.3 z" fill="#6abd45"/>
<path d="M537.5,442.45 l9.1,11.3 l-9.1,11.3 l-9.1,-11.3 z" fill="#6abd45"/>
<path d="M448.25,685.45 l9.1,11.3 l-9.1,11.3 l-9.1,-11.3 z" fill="#6abd45"/>
<path d="M625.75,571.2 l9.1,11.3 l-9.1,11.3 l-9.1,-11.3 z" fill="#6abd45"/>
<path d="M705,634.45 l9.1,11.3 l-9.1,11.3 l-9.1,-11.3 z" fill="#6abd45"/>
<path d="M888.25,622.45 l9.1,11.3 l-9.1,11.3 l-9.1,-11.3 z" fill="#6abd45"/>
<path d="M968,611.95 l9.1,11.3 l-9.1,11.3 l-9.1,-11.3 z" fill="#6abd45"/>
<path d="M95.75,181.95 l9.1,11.3 l-9.1,11.3 l-9.1,-11.3 z" fill="#ed1c24"/>
<path d="M293.75,296.2 l9.1,11.3 l-9.1,11.3 l-9.1,-11.3 z" fill="#ed1c24"/>
<path d="M385.25,88.2 l9.1,11.3 l-9.1,11.3 l-9.1,-11.3 z" fill="#ed1c24"/>
<path d="M432.25,35.45 l9.1,11.3 l-9.1,11.3 l-9.1,-11.3 z" fill="#ed1c24"/>
<path d="M554.25,222.45 l9.1,11.3 l-9.1,11.3 l-9.1,-11.3 z" fill="#ed1c24"/>
<path d="M640,104.95 l9.1,11.3 l-9.1,11.3 l-9.1,-11.3 z" fill="#ed1c24"/>
<path d="M690.75,74.2 l9.1,11.3 l-9.1,11.3 l-9.1,-11.3 z" fill="#ed1c24"/>
<path d="M853.75,253.2 l9.1,11.3 l-9.1,11.3 l-9.1,-11.3 z" fill="#ed1c24"/>
<path d="M874.25,143.2 l9.1,11.3 l-9.1,11.3 l-9.1,-11.3 z" fill="#ed1c24"/>
<path d="M110,406.2 l9.1,11.3 l-9.1,11.3 l-9.1,-11.3 z" fill="#3953a4"/>
<path d="M385.25,196.7 l9.1,11.3 l-9.1,11.3 l-9.1,-11.3 z" fill="#3953a4"/>
<path d="M448.75,484.2 l9.1,11.3 l-9.1,11.3 l-9.1,-11.3 z" fill="#3953a4"/>
<path d="M554.25,326.2 l9.1,11.3 l-9.1,11.3 l-9.1,-11.3 z" fill="#3953a4"/>
<path d="M640,147.45 l9.1,11.3 l-9.1,11.3 l-9.1,-11.3 z" fill="#3953a4"/>
<path d="M705,438.7 l9.1,11.3 l-9.1,11.3 l-9.1,-11.3 z" fill="#3953a4"/>
<path d="M888.25,601.7 l9.1,11.3 l-9.1,11.3 l-9.1,-11.3 z" fill="#3953a4"/>
<path d="M93.15,313.9 h5.2 v5.5 h5.5 v5.2 h-5.5 v5.5 h-5.2 v-5.5 h-5.5 v-5.2 h5.5 z" fill="#3953a4"/>
<path d="M366.15,405.65 h5.2 v5.5 h5.5 v5.2 h-5.5 v5.5 h-5.2 v-5.5 h-5.5 v-5.2 h5.5 z" fill="#3953a4"/>
<path d="M429.4,216.15 h5.2 v5.5 h5.5 v5.2 h-5.5 v5.5 h-5.2 v-5.5 h-5.5 v-5.2 h5.5 z" fill="#3953a4"/>
<path d="M534.9,428.15 h5.2 v5.5 h5.5 v5.2 h-5.5 v5.5 h-5.2 v-5.5 h-5.5 v-5.2 h5.5 z" fill="#3953a4"/>
<path d="M623.15,336.4 h5.2 v5.5 h5.5 v5.2 h-5.5 v5.5 h-5.2 v-5.5 h-5.5 v-5.2 h5.5 z" fill="#3953a4"/>
<path d="M688.15,193.65 h5.2 v5.5 h5.5 v5.2 h-5.5 v5.5 h-5.2 v-5.5 h-5.5 v-5.2 h5.5 z" fill="#3953a4"/>
<path d="M871.65,376.9 h5.2 v5.5 h5.5 v5.2 h-5.5 v5.5 h-5.2 v-5.5 h-5.5 v-5.2 h5.5 z" fill="#3953a4"/>
<rect x="112" y="591.1" width="467.4" height="85.3" fill="#fff" stroke="#000" stroke-width="1.6"/>
<path d="M128.75,613.25 H210" stroke="#3953a4" stroke-width="5" fill="none"/>
<path d="M128.75,652 H210" stroke="#ed1c24" stroke-width="5.2" stroke-dasharray="16.25 16.25" fill="none"/>
<text y="625" font-size="29.6"><tspan x="220">Original</tspan> <tspan x="327.2">HEO</tspan><tspan font-style="italic" font-size="19" dx="-2" dy="9.5">f</tspan><tspan x="400.9" dy="-9.5">Signals</tspan></text>
<text y="664" font-size="29.6"><tspan x="220.4">Transformed</tspan> <tspan x="386.2">Wavelet</tspan> <tspan x="489.4">Signals</tspan></text>
<text x="92.8" y="739.6" font-size="27.8" text-anchor="middle">0</text>
<text x="202.7" y="739.6" font-size="27.8" text-anchor="middle">1</text>
<text x="312.45" y="739.6" font-size="27.8" text-anchor="middle">2</text>
<text x="422.7" y="739.6" font-size="27.8" text-anchor="middle">3</text>
<text x="534.7" y="739.6" font-size="27.8" text-anchor="middle">4</text>
<text x="644.95" y="739.6" font-size="27.8" text-anchor="middle">5</text>
<text x="754.95" y="739.6" font-size="27.8" text-anchor="middle">6</text>
<text x="864.95" y="739.6" font-size="27.8" text-anchor="middle">7</text>
<text x="976.75" y="739.6" font-size="27.8" text-anchor="middle">8</text>
<text x="79.4" y="20.1" font-size="27.8" text-anchor="end">400</text>
<text x="79.4" y="105.7" font-size="27.8" text-anchor="end">300</text>
<text x="79.4" y="193.2" font-size="27.8" text-anchor="end">200</text>
<text x="79.4" y="281" font-size="27.8" text-anchor="end">100</text>
<text x="79.4" y="368.7" font-size="27.8" text-anchor="end">0</text>
<text x="79.4" y="454.5" font-size="27.8" text-anchor="end">−100</text>
<text x="79.4" y="541.85" font-size="27.8" text-anchor="end">−200</text>
<text x="79.4" y="629.6" font-size="27.8" text-anchor="end">−300</text>
<text x="79.4" y="716.85" font-size="27.8" text-anchor="end">−400</text>
<text x="549.4" y="777.1" font-size="32.5" text-anchor="middle">Time [s]</text>
<text transform="translate(25.2,361.5) rotate(-90)" font-size="32.5" text-anchor="middle">Value</text>
<text transform="translate(49.2,328.4) scale(1.1,1.03)" font-size="32" font-style="italic">θ</text><text x="65.6" y="339" font-size="18.5" font-style="italic">h</text>
<text transform="translate(49.2,414) scale(1.1,1.03)" font-size="32" font-style="italic">θ</text><text x="65.6" y="424.2" font-size="18.5" font-style="italic">l</text>
</svg></body></html>
